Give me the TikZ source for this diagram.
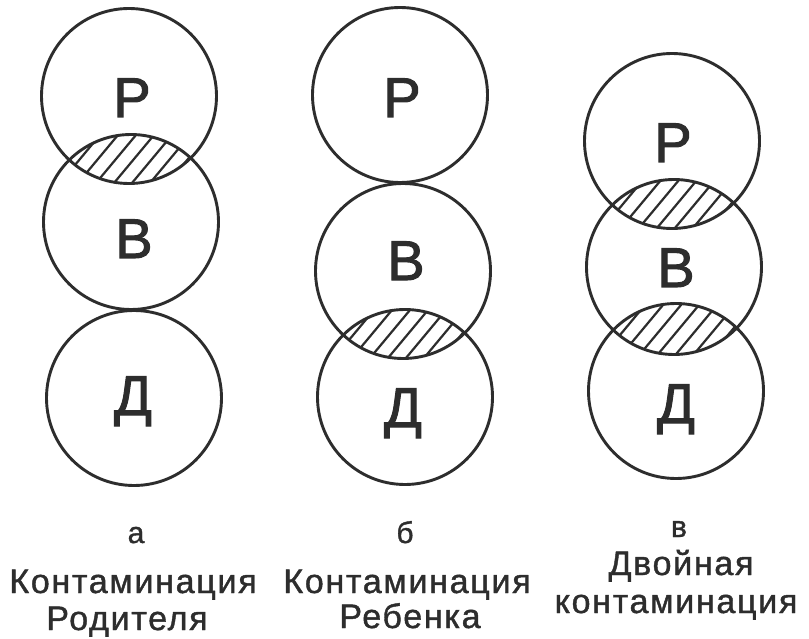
\documentclass[tikz,border=0pt]{standalone}
\usepackage{fontspec}
\setmainfont{Liberation Sans}[FakeBold=1.2]
\newfontfamily\capfont{Liberation Sans}[LetterSpace=5,FakeBold=1.2]
\newfontfamily\bigfont{Liberation Sans}[FakeBold=1.8]
\usetikzlibrary{calc}
\definecolor{ink}{RGB}{45,45,45}
\tikzset{
  ring/.style={circle, draw=ink, line width=2.9pt, minimum size=175pt, inner sep=0pt, outer sep=0pt},
  letter/.style={anchor=base, font=\bigfont\fontsize{56}{60}\selectfont, text=ink, inner sep=0pt},
  capline/.style={anchor=base, font=\capfont\fontsize{34}{38}\selectfont, text=ink, inner sep=0pt},
  sublabel/.style={anchor=base, font=\capfont\fontsize{30}{34}\selectfont, text=ink, inner sep=0pt},
  hatch/.style={draw=ink, line width=2.2pt}
}
\newcommand\hatchlens[2]{%
  \begin{scope}
    \clip (#1) circle[radius=87.5pt];
    \clip (#2) circle[radius=87.5pt];
    \coordinate (m) at ($(#1)!0.5!(#2)$);
    \foreach \i in {-140,-122,...,140}
      \draw[hatch] ([shift={(\i-50,60)}]m) -- ([shift={(\i+50,-60)}]m);
  \end{scope}}
\begin{document}
\begin{tikzpicture}[x=1pt,y=-1pt]
  \useasboundingbox (0,0) rectangle (809,639);
  % centres
  \coordinate (caP) at (129,96);
  \coordinate (caB) at (131,222);
  \coordinate (caD) at (134,398);
  \coordinate (cbP) at (400,95);
  \coordinate (cbB) at (403,271);
  \coordinate (cbD) at (405,397);
  \coordinate (ccP) at (672,141);
  \coordinate (ccB) at (674,267);
  \coordinate (ccD) at (676,391);
  % hatching
  \hatchlens{caP}{caB}
  \hatchlens{cbB}{cbD}
  \hatchlens{ccP}{ccB}
  \hatchlens{ccB}{ccD}
  % circles
  \node[ring] (aP) at (caP) {};
  \node[ring] (aB) at (caB) {};
  \node[ring] (aD) at (caD) {};
  \node[ring] (bP) at (cbP) {};
  \node[ring] (bB) at (cbB) {};
  \node[ring] (bD) at (cbD) {};
  \node[ring] (cP) at (ccP) {};
  \node[ring] (cB) at (ccB) {};
  \node[ring] (cD) at (ccD) {};
  % letters
  \node[letter] (aPt) at (132,117) {Р};
  \node[letter] (aBt) at (134,258) {В};
  \node[letter] (aDt) at (133,415) {Д};
  \node[letter] (bPt) at (402,117) {Р};
  \node[letter] (bBt) at (406,280) {В};
  \node[letter] (bDt) at (403,427) {Д};
  \node[letter] (cPt) at (673,162) {Р};
  \node[letter] (cBt) at (676,287) {В};
  \node[letter] (cDt) at (676,423) {Д};
  % captions
  \node[sublabel] (a0) at (136,543) {а};
  \node[capline] (a1) at (133,593) {Контаминация};
  \node[capline] (a2) at (127,630) {Родителя};
  \node[sublabel] (b0) at (405,543) {б};
  \node[capline] (b1) at (407,593) {Контаминация};
  \node[capline] (b2) at (410,628) {Ребенка};
  \node[sublabel] (c0) at (679,537) {в};
  \node[capline] (c1) at (681,575) {Двойная};
  \node[capline] (c2) at (676,613) {контаминация};
\end{tikzpicture}
\end{document}
